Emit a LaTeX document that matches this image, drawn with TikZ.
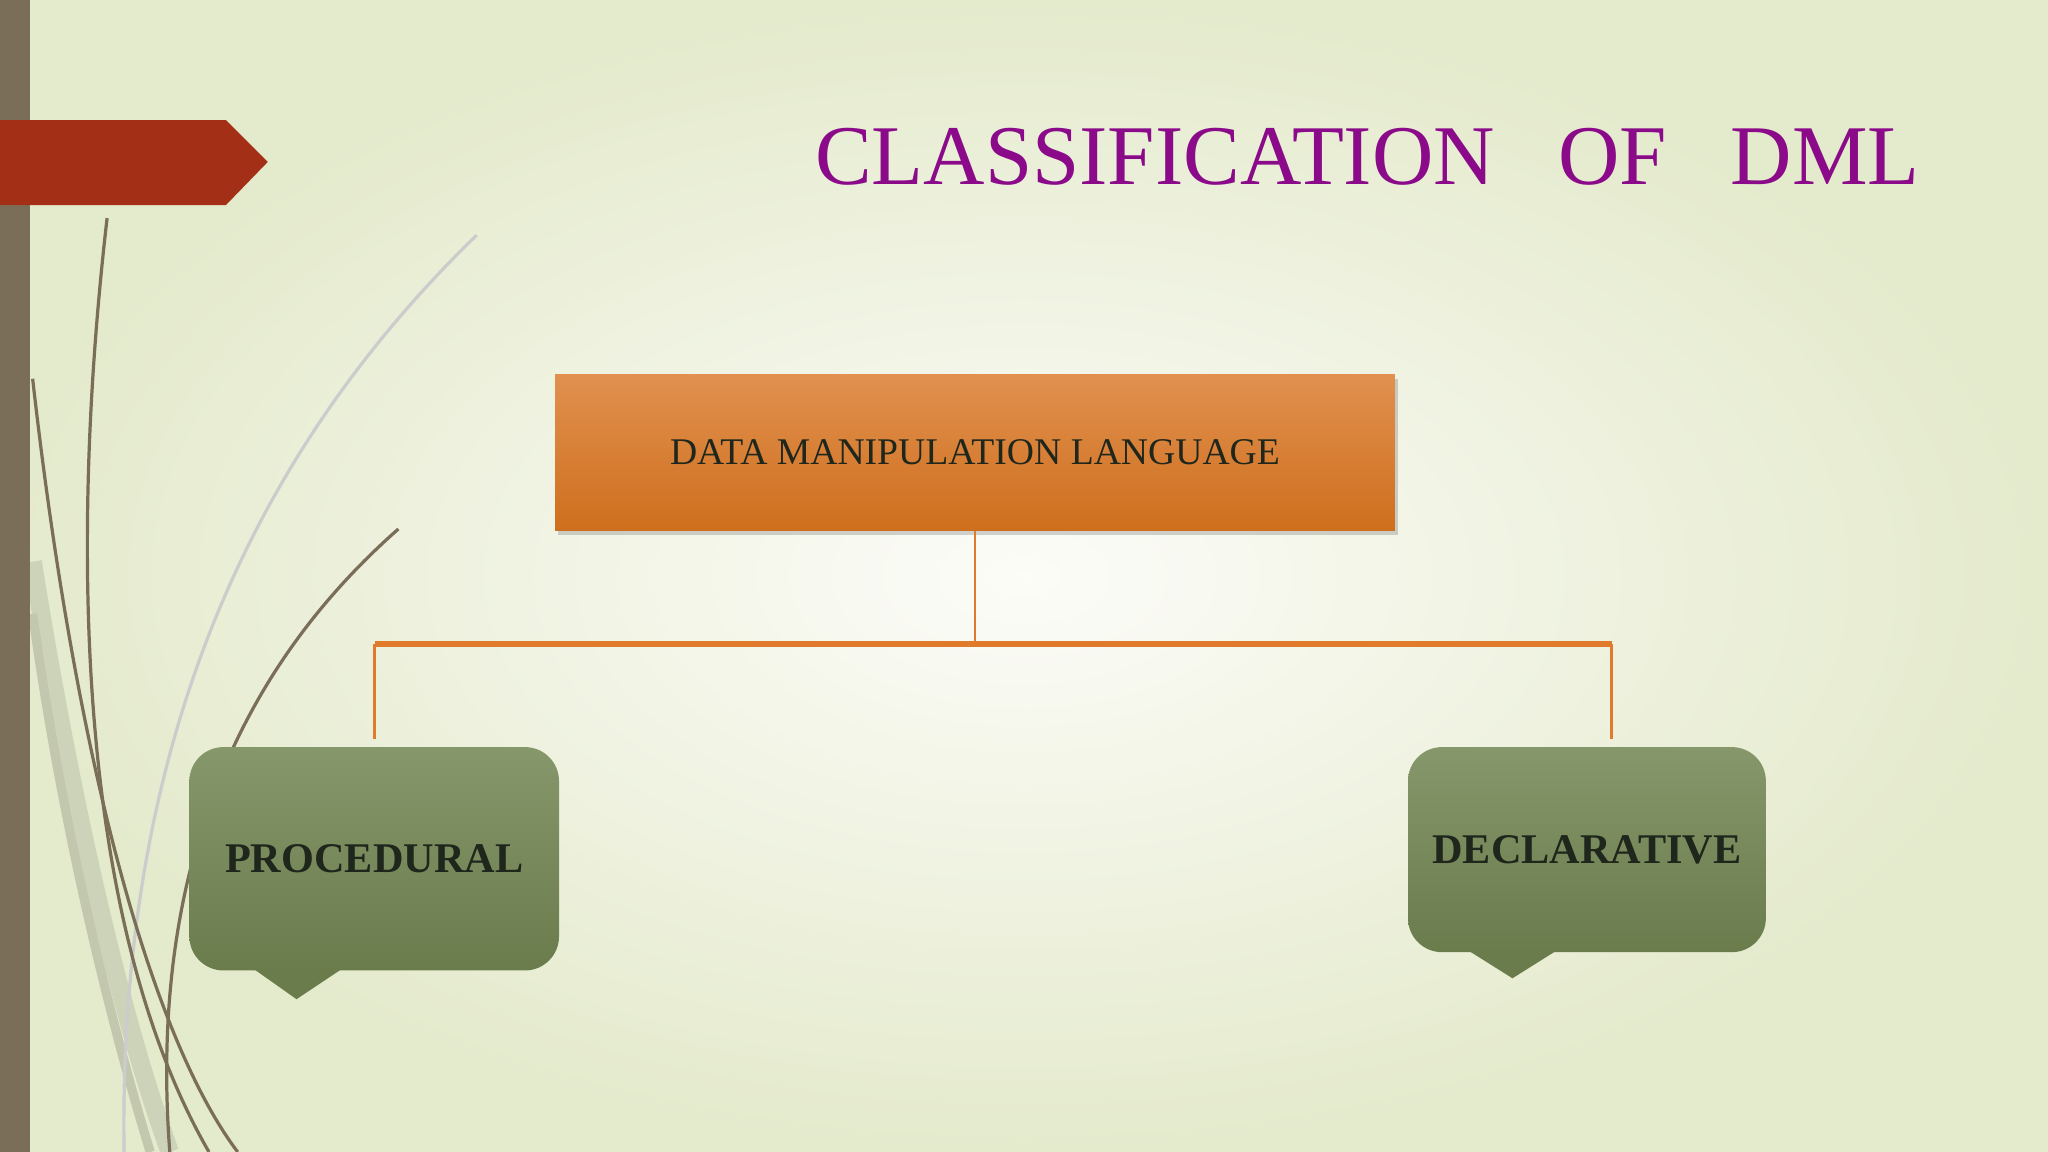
\documentclass[tikz,border=0pt]{standalone}
\usepackage{fontspec}
\setmainfont{Liberation Serif}
\usetikzlibrary{shadows}
\definecolor{bgin}{HTML}{FCFCF8}
\definecolor{bgout}{HTML}{E4EACC}
\definecolor{barc}{HTML}{7A6E58}
\definecolor{redc}{HTML}{A32F16}
\definecolor{titc}{HTML}{8A0A8A}
\definecolor{orT}{HTML}{E1904F}
\definecolor{orB}{HTML}{CE6F1D}
\definecolor{lnc}{HTML}{E07B2C}
\definecolor{grT}{HTML}{86976B}
\definecolor{grB}{HTML}{6A7C4C}
\definecolor{txc}{HTML}{1F261C}
\tikzset{
 topbox/.style={minimum width=643*0.01cm, minimum height=119*0.01cm, top color=orT, bottom color=orB, draw=none,
   drop shadow={shadow xshift=0.6pt, shadow yshift=-1pt, opacity=0.35}, font=\fontsize{8.2}{10}\selectfont, text=txc},
 greenbox/.style={rounded corners=0.26cm, top color=grT, bottom color=grB, draw=none,
   font=\fontsize{9.2}{11}\selectfont\bfseries, text=txc},
 conn/.style={draw=lnc, line width=1.3pt},
 stem/.style={draw=lnc, line width=0.6pt},
 curve/.style={line width=0.7pt}
}
\begin{document}
\begin{tikzpicture}[x=0.01cm,y=-0.01cm]
\useasboundingbox (0,0) rectangle (1568,882);
\shade[inner color=bgin, outer color=bgout] (0,0) rectangle (1568,882);
% decorative curves
\draw[curve, color=black!10!bgout, line width=4pt] (25,430) .. controls (60,650) and (100,800) .. (130,882);
\draw[curve, color=black!15!bgout, line width=2pt] (25,470) .. controls (50,650) and (90,800) .. (115,882);
\draw[curve, color=gray!40] (365,180) .. controls (200,340) and (90,560) .. (95,882);
\draw[curve, color=barc] (82,167) .. controls (55,400) and (55,700) .. (160,882);
\draw[curve, color=barc] (25,290) .. controls (60,600) and (120,800) .. (182,882);
\draw[curve, color=barc] (305,405) .. controls (220,480) and (110,620) .. (130,882);
% bar and arrow
\fill[barc] (0,0) rectangle (23,882);
\fill[redc] (0,92) -- (173,92) -- (205,124) -- (173,157) -- (0,157) -- cycle;
% title
\node[text=titc, font=\fontsize{18.5}{22}\selectfont, anchor=base] (title) at (1047,141) {CLASSIFICATION\ \ \ OF\ \ \ DML};
% top box
\node[topbox] (dml) at (746.5,346.5) {DATA MANIPULATION LANGUAGE};
% green boxes with pointers
\fill[grB] (193,741) -- (263,741) -- (227,765) -- cycle;
\node[greenbox, minimum width=283*0.01cm, minimum height=171*0.01cm] (proc) at (286.5,657.5) {PROCEDURAL};
\fill[grB] (1123,727) -- (1193,727) -- (1158,749) -- cycle;
\node[greenbox, minimum width=274*0.01cm, minimum height=157*0.01cm] (decl) at (1215,650.5) {DECLARATIVE};
% connectors
\coordinate (jc) at (dml.south |- 0,493);
\coordinate (jl) at (287,493);
\coordinate (jr) at (1234,493);
\coordinate (pl) at (287,566);
\coordinate (pr) at (1234,566);
\draw[stem] (dml.south) -- (jc);
\draw[conn] (jl) -- (jr);
\draw[stem] (jl) -- (pl);
\draw[stem] (jr) -- (pr);
\end{tikzpicture}
\end{document}
